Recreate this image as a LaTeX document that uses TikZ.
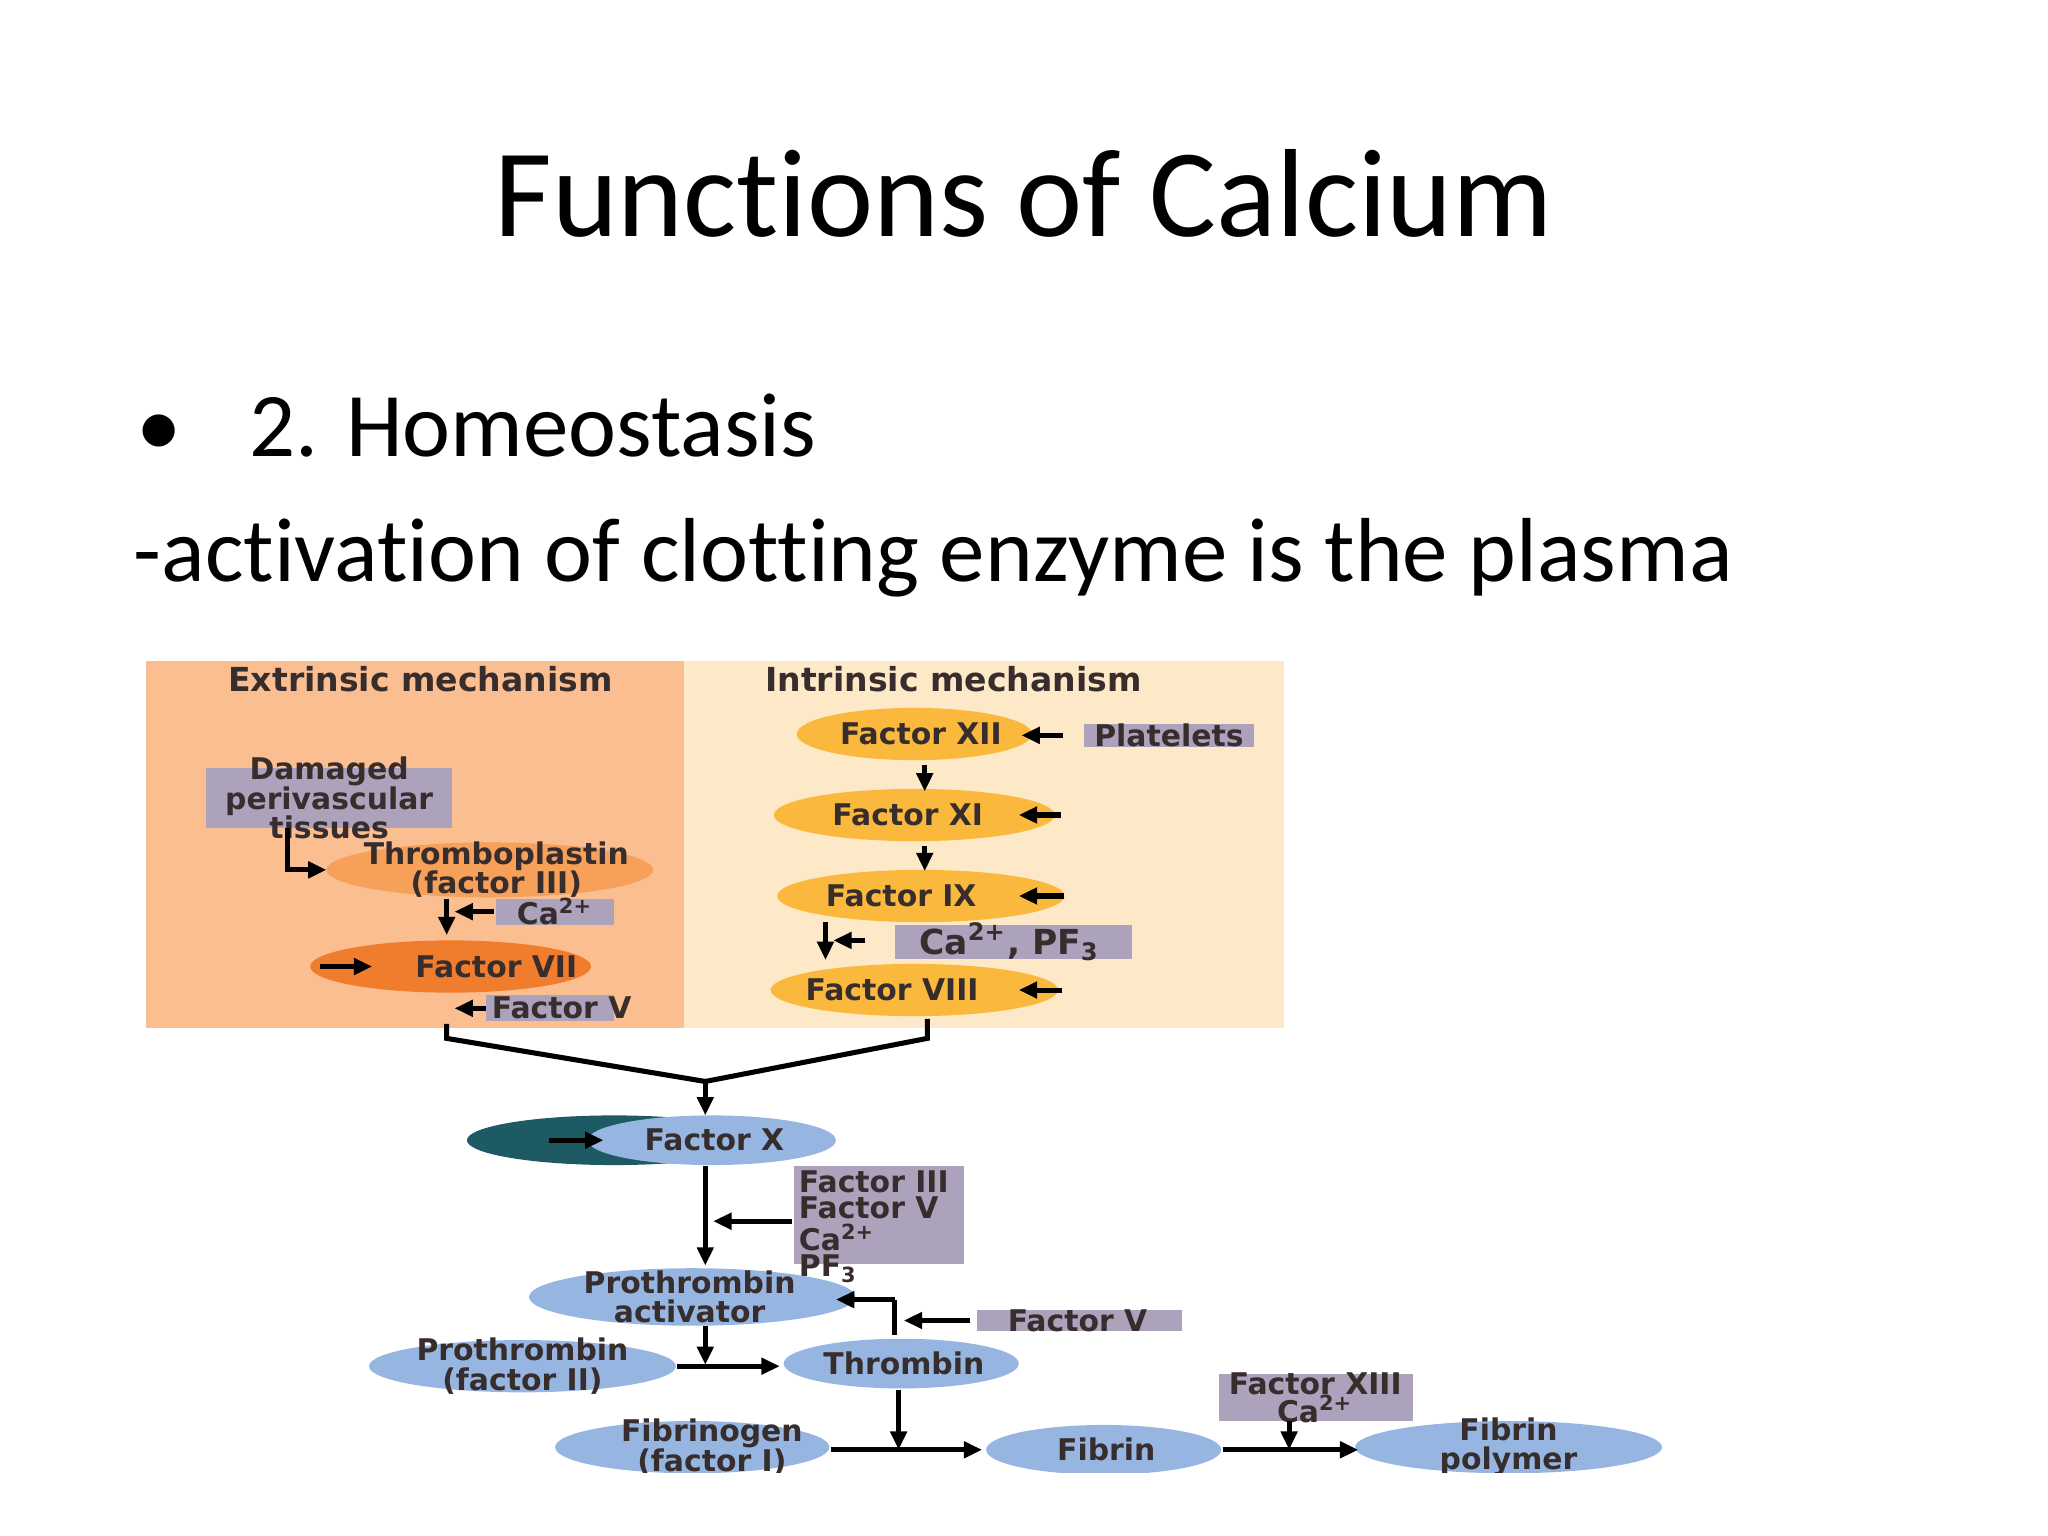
\documentclass[tikz,border=0pt]{standalone}
\usepackage{fontspec}
\setmainfont{Carlito}[Ligatures={NoCommon}]
\newfontfamily\lab{DejaVu Sans}
\usetikzlibrary{arrows.meta,shapes.geometric}
\definecolor{pleft}{RGB}{250,190,145}
\definecolor{pright}{RGB}{253,232,200}
\definecolor{gbox}{RGB}{172,162,188}
\definecolor{orA}{RGB}{246,160,90}
\definecolor{orB}{RGB}{240,125,45}
\definecolor{yel}{RGB}{250,185,60}
\definecolor{blu}{RGB}{150,182,225}
\definecolor{teal}{RGB}{30,90,100}
\definecolor{txt}{RGB}{55,45,45}
\newcommand{\sps}[1]{\textsuperscript{#1}}
\tikzset{x=0.01cm,y=-0.01cm,
 lt/.style={font=\lab\bfseries\fontsize{6.5pt}{6.4pt}\selectfont,text=txt,align=center,inner sep=0pt},
 el/.style={ellipse,draw=none,minimum width={#1*0.01cm},inner sep=0pt,minimum height=0.4cm},
 ar/.style={-{Triangle[length=4pt,width=3.5pt]},line width=1.1pt,black},
 ln/.style={line width=1.1pt,black}}
\begin{document}
\begin{tikzpicture}
\useasboundingbox (0,0) rectangle (1568,1176);
\fill[white] (0,0) rectangle (1568,1176);
\node[font=\fontsize{27.3pt}{30pt}\selectfont] (title) at (784,148) {Functions of Calcium};
\node[anchor=west,font=\fontsize{19.8pt}{24pt}\selectfont] (b1) at (92,326) {\textbullet\hspace{0.75em}2. Homeostasis};
\node[anchor=west,font=\fontsize{19.8pt}{24pt}\selectfont] (b2) at (90,427) {-activation of clotting enzyme is the plasma};
% panels
\fill[pleft] (112,506) rectangle (524,787);
\fill[pright] (524,506) rectangle (983,787);
\node[lt,font=\lab\bfseries\fontsize{7.2pt}{7pt}\selectfont] (h1) at (322,520) {Extrinsic mechanism};
\node[lt,font=\lab\bfseries\fontsize{7.2pt}{7pt}\selectfont] (h2) at (730,520) {Intrinsic mechanism};
% extrinsic
\fill[gbox] (158,588) rectangle (346,634);
\node[lt] (dam) at (252,611) {Damaged\\perivascular\\tissues};
\node[el=250,fill=orA,minimum height=0.42cm] (thr) at (375,666) {};
\node[lt] at (380,666) {Thromboplastin\\(factor III)};
\fill[gbox] (380,688) rectangle (470,708);
\node[lt] (ca1) at (425,698) {Ca\sps{2+}};
\node[el=215,fill=orB] (f7) at (345,740) {};
\node[lt] at (380,740) {Factor VII};
\fill[gbox] (372,762) rectangle (470,782);
\node[lt] (fv1) at (430,772) {Factor V};
\draw[ar] (220,634) -- (220,666) -- (250,666);
\draw[ar] (342,688) -- (342,716);
\draw[ar] (378,698) -- (348,698);
\draw[ar] (245,740) -- (285,740);
\draw[ar] (372,772) -- (348,772);
% intrinsic
\node[el=180,fill=yel] (f12) at (700,562) {}; \node[lt] at (705,562) {Factor XII};
\node[el=215,fill=yel] (f11) at (700,624) {}; \node[lt] at (695,624) {Factor XI};
\node[el=220,fill=yel] (f9) at (705,686) {}; \node[lt] at (690,686) {Factor IX};
\node[el=220,fill=yel] (f8) at (700,758) {}; \node[lt] at (683,758) {Factor VIII};
\fill[gbox] (830,554) rectangle (960,572);
\node[lt] (plt) at (895,563) {Platelets};
\fill[gbox] (685,708) rectangle (867,734);
\node[lt,font=\lab\bfseries\fontsize{7.5pt}{7pt}\selectfont] (capf) at (773,721) {Ca\sps{2+}, PF\textsubscript{3}};
\draw[ar] (814,563) -- (782,563);
\draw[ar] (812,624) -- (780,624);
\draw[ar] (815,686) -- (780,686);
\draw[ar] (813,758) -- (780,758);
\draw[ar] (708,586) -- (708,606);
\draw[ar] (708,648) -- (708,667);
\draw[ar] (632,706) -- (632,735);
\draw[ar] (662,720) -- (638,720);
% merge
\draw[ln] (342,784) -- (342,795) -- (540,828);
\draw[ln] (710,780) -- (710,795) -- (540,828);
\draw[ar] (540,828) -- (540,854);
% common
\node[el=225,fill=teal,minimum height=0.38cm] (fxa) at (470,873) {};
\node[el=190,fill=blu,minimum height=0.38cm] (fx) at (545,873) {};
\node[lt] at (547,873) {Factor X};
\draw[ar] (420,873) -- (462,873);
\fill[gbox] (608,893) rectangle (738,968);
\node[lt,anchor=north west,align=left,font=\lab\bfseries\fontsize{6.5pt}{5.6pt}\selectfont] (fbox) at (611,896) {Factor III\\Factor V\\Ca\sps{2+}\\PF\textsubscript{3}};
\draw[ar] (540,893) -- (540,969);
\draw[ar] (606,935) -- (546,935);
\node[el=250,fill=blu,minimum height=0.44cm] (pa) at (530,993) {};
\node[lt] at (528,993) {Prothrombin\\activator};
\fill[gbox] (748,1003) rectangle (905,1019);
\node[lt] (fv2) at (825,1011) {Factor V};
\draw[ln] (685,1022) -- (685,995);
\draw[ar] (685,995) -- (640,995);
\draw[ar] (743,1011) -- (692,1011);
\node[el=235,fill=blu] (p2) at (400,1046) {};
\node[lt] at (400,1046) {Prothrombin\\(factor II)};
\node[el=180,fill=blu,minimum height=0.38cm] (th) at (690,1044) {};
\node[lt] at (692,1044) {Thrombin};
\draw[ar] (540,1015) -- (540,1045);
\draw[ar] (518,1046) -- (597,1046);
\node[el=210,fill=blu] (fg) at (530,1108) {};
\node[lt] at (545,1108) {Fibrinogen\\(factor I)};
\node[el=180,fill=blu,minimum height=0.38cm] (fb) at (845,1110) {};
\node[lt] at (847,1110) {Fibrin};
\draw[ar] (688,1064) -- (688,1110);
\draw[ar] (636,1110) -- (752,1110);
\fill[gbox] (933,1052) rectangle (1082,1088);
\node[lt,font=\lab\bfseries\fontsize{6.5pt}{6pt}\selectfont] (f13) at (1007,1070) {Factor XIII\\Ca\sps{2+}};
\node[el=235,fill=blu] (fp) at (1155,1108) {};
\node[lt] at (1155,1108) {Fibrin\\polymer};
\draw[ar] (987,1088) -- (987,1110);
\draw[ar] (936,1110) -- (1040,1110);
\fill[white] (100,1128) rectangle (1300,1176);
\end{tikzpicture}
\end{document}
